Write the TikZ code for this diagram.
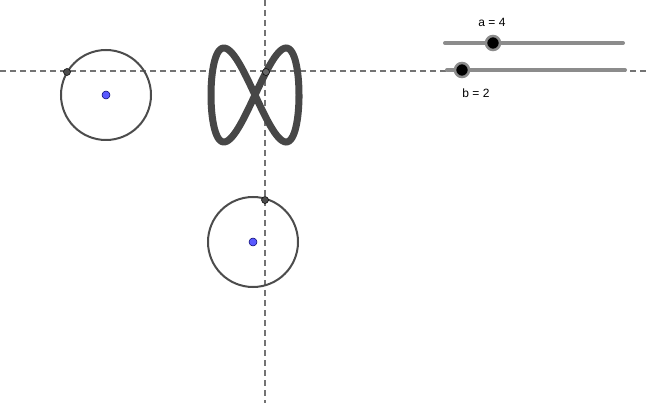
\documentclass[tikz,border=0pt]{standalone}
\usepackage{fontspec}
\setmainfont{Liberation Sans}
\begin{document}
\begin{tikzpicture}[x=1pt,y=-1pt,
  axis/.style={draw=gray!90!black,dash pattern=on 6pt off 4pt,line width=1.2pt},
  circ/.style={draw=black!70,line width=2pt},
  blue pt/.style={circle,fill=blue!65!white,draw=blue!40!black,line width=0.5pt,inner sep=0pt,minimum size=8pt},
  dark pt/.style={circle,fill=black!70,draw=black,line width=0.5pt,inner sep=0pt,minimum size=7pt},
  slider/.style={draw=black!45,line width=4pt},
  knob/.style={circle,fill=black,draw=black!45,line width=2.5pt,inner sep=0pt,minimum size=14pt},
  lab/.style={font=\fontsize{12}{14}\selectfont}]
\path[fill=white] (0,0) rectangle (650,403);
\useasboundingbox (0,0) rectangle (650,403);
\coordinate (hl) at (0,71); \coordinate (hr) at (650,71);
\coordinate (vt) at (265,0); \coordinate (vb) at (265,403);
\draw[axis] (hl) -- (hr);
\draw[axis] (vt) -- (vb);
% circle 1
\node[blue pt] (c1) at (106,95) {};
\draw[circ] (c1.center) circle (45);
\node[dark pt] (p1) at (67,72) {};
% circle 2
\node[blue pt] (c2) at (253,242) {};
\draw[circ] (c2.center) circle (45);
\node[dark pt] (p2) at (265,200) {};
% figure eight
\draw[black!72,line width=7pt,smooth,samples=120,domain=0:360,variable=\t]
  plot ({255+44*cos(\t)},{95-47*sin(2*\t)}) -- cycle;
\node[dark pt,fill=black!60] (p3) at (266,72) {};
% sliders
\coordinate (a1) at (445,43); \coordinate (a2) at (623,43);
\draw[slider,line cap=round] (a1) -- (a2);
\node[knob] (ka) at (493,43) {};
\node[lab] (la) at (492,22) {a = 4};
\coordinate (b1) at (447,70); \coordinate (b2) at (625,70);
\draw[slider,line cap=round] (b1) -- (b2);
\node[knob] (kb) at (462,70) {};
\node[lab] (lb) at (476,93) {b = 2};
\end{tikzpicture}
\end{document}
